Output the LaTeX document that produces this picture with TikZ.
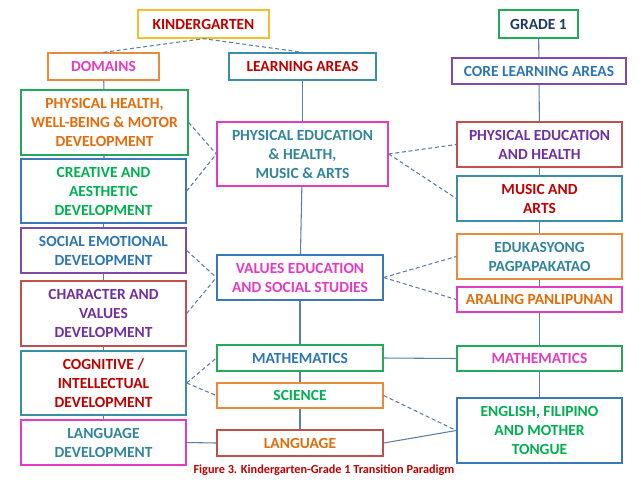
\documentclass[tikz,border=0pt]{standalone}
\usepackage{fontspec}
\setmainfont{Carlito}
\definecolor{cyel}{HTML}{F5BE2C}
\definecolor{cred}{HTML}{C00000}
\definecolor{cmag}{HTML}{E23CC4}
\definecolor{corgT}{HTML}{E46C0A}
\definecolor{corgB}{HTML}{E98B3A}
\definecolor{ctealT}{HTML}{31849B}
\definecolor{ctealB}{HTML}{3A8FA8}
\definecolor{cgreenT}{HTML}{00B050}
\definecolor{cgreenB}{HTML}{22A95B}
\definecolor{cblueT}{HTML}{2E75B6}
\definecolor{cblueB}{HTML}{3A78B8}
\definecolor{cpurT}{HTML}{7030A0}
\definecolor{cpurB}{HTML}{7F4BA8}
\definecolor{cdredB}{HTML}{C0504D}
\definecolor{cnavy}{HTML}{1F3864}
\definecolor{clin}{HTML}{5A7FA8}
\newcommand\mybox[8]{%
 \pgfmathsetmacro\myCx{(#2+#4)/2}\pgfmathsetmacro\myCy{(#3+#5)/2}%
 \pgfmathsetmacro\myW{(#4-#2)*0.75}\pgfmathsetmacro\myH{(#5-#3)*0.75}%
 \node[box, draw=#6, text=#7, minimum width=\myW pt, minimum height=\myH pt] (#1) at (\myCx,\myCy) {#8};}
\begin{document}
\begin{tikzpicture}[x=0.75pt,y=-0.75pt,
  box/.style={line width=1pt, inner sep=0pt, align=center, font=\bfseries\fontsize{11.6}{14.25}\selectfont},
  conn/.style={draw=clin, line width=0.8pt},
  dconn/.style={conn, dash pattern=on 3pt off 2pt}]
\useasboundingbox[fill=white] (0,0) rectangle (638,479);
% top
\mybox{kg}{138}{10}{269}{38}{cyel}{cred}{KINDERGARTEN}
\mybox{dom}{48}{53}{159}{80}{corgB}{cmag}{DOMAINS}
\mybox{la}{229}{53}{376}{80}{ctealB}{cred}{LEARNING AREAS}
\mybox{g1}{499}{10}{578}{38}{cgreenB}{cnavy}{GRADE 1}
\mybox{core}{452}{58}{626}{84}{cpurB}{cblueT}{CORE LEARNING AREAS}
% left
\mybox{l1}{21}{90}{188}{155}{cgreenB}{corgT}{PHYSICAL HEALTH,\\WELL-BEING \& MOTOR\\DEVELOPMENT}
\mybox{l2}{21}{159}{186}{223}{cblueB}{cgreenT}{CREATIVE AND\\AESTHETIC\\DEVELOPMENT}
\mybox{l3}{21}{228}{186}{273}{cpurB}{cblueT}{SOCIAL EMOTIONAL\\DEVELOPMENT}
\mybox{l4}{21}{281}{186}{346}{cdredB}{cpurT}{CHARACTER AND\\VALUES\\DEVELOPMENT}
\mybox{l5}{21}{351}{186}{415}{ctealB}{cred}{COGNITIVE /\\INTELLECTUAL\\DEVELOPMENT}
\mybox{l6}{21}{420}{186}{465}{cmag}{ctealT}{LANGUAGE\\DEVELOPMENT}
% middle
\mybox{m1}{217}{122}{388}{186}{cmag}{ctealT}{PHYSICAL EDUCATION\\\& HEALTH,\\MUSIC \& ARTS}
\mybox{m2}{217}{255}{383}{300}{cblueB}{cmag}{VALUES EDUCATION\\AND SOCIAL STUDIES}
\mybox{m3}{217}{345}{383}{371}{cgreenB}{cblueT}{MATHEMATICS}
\mybox{m4}{217}{383}{383}{408}{corgB}{cgreenT}{SCIENCE}
\mybox{m5}{217}{430}{383}{456}{cdredB}{corgT}{LANGUAGE}
% right
\mybox{r1}{457}{122}{622}{167}{cdredB}{cpurT}{PHYSICAL EDUCATION\\AND HEALTH}
\mybox{r2}{457}{176}{622}{221}{ctealB}{cred}{MUSIC AND\\ARTS}
\mybox{r3}{457}{234}{622}{279}{corgB}{ctealT}{EDUKASYONG\\PAGPAPAKATAO}
\mybox{r4}{457}{287}{622}{312}{cmag}{corgT}{ARALING PANLIPUNAN}
\mybox{r5}{457}{346}{622}{371}{cgreenB}{cmag}{MATHEMATICS}
\mybox{r6}{457}{398}{622}{463}{cblueB}{cgreenT}{ENGLISH, FILIPINO\\AND MOTHER\\TONGUE}
% caption
\node[text=cred, font=\bfseries\fontsize{9.2}{11}\selectfont, inner sep=0pt] (cap) at (324,470) {Figure 3. Kindergarten-Grade 1 Transition Paradigm};
% connectors
\draw[dconn] (dom.north) -- (kg.south) -- (la.north);
\draw[conn] (g1) -- (core);
\draw[conn] (core) -- (r1);
\draw[conn] (r1) -- (r2);
\draw[conn] (r2) -- (r3);
\draw[conn] (r3) -- (r4);
\draw[conn] (r4) -- (r5);
\draw[conn] (r5) -- (r6);
\draw[conn] (dom) -- (l1);
\draw[conn] (l1) -- (l2);
\draw[conn] (l2) -- (l3);
\draw[conn] (l3) -- (l4);
\draw[conn] (l4) -- (l5);
\draw[conn] (l5) -- (l6);
\draw[conn] (la) -- (m1);
\draw[conn] (m1) -- (m2);
\draw[conn] (m2) -- (m3);
\draw[conn] (m3) -- (m4);
\draw[conn] (m4) -- (m5);
\draw[dconn] (l1.east) -- (m1.west);
\draw[dconn] (l2.east) -- (m1.west);
\draw[dconn] (m1.east) -- (r1.west);
\draw[dconn] (m1.east) -- (r2.west);
\draw[dconn] (l3.east) -- (m2.west);
\draw[dconn] (l4.east) -- (m2.west);
\draw[dconn] (m2.east) -- (r3.west);
\draw[dconn] (m2.east) -- (r4.west);
\draw[dconn] (l5.east) -- (m3.west);
\draw[dconn] (l5.east) -- (m4.west);
\draw[conn] (l6.east) -- (m5.west);
\draw[conn] (m3.east) -- (r5.west);
\draw[dconn] (m4.east) -- (r6.west);
\draw[conn] (m5.east) -- (r6.west);
\end{tikzpicture}
\end{document}
